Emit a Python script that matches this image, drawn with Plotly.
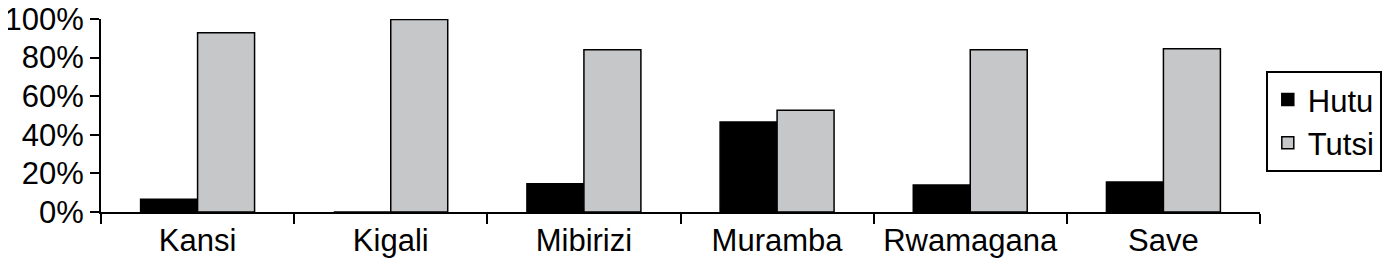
import plotly.graph_objects as go

categories = ["Kansi", "Kigali", "Mibirizi", "Muramba", "Rwamagana", "Save"]
hutu = [0.066, 0.0, 0.147, 0.466, 0.14, 0.155]
tutsi = [0.929, 0.998, 0.841, 0.527, 0.841, 0.846]
ytick_vals = [0, 0.2, 0.4, 0.6, 0.8, 1.0]
ytick_text = ["0%", "20%", "40%", "60%", "80%", "100%"]

fig = go.Figure()
fig.add_trace(go.Bar(x=categories, y=hutu, name="Hutu",
                     marker=dict(color="#000000", line=dict(color="#000000", width=1.5))))
fig.add_trace(go.Bar(x=categories, y=tutsi, name="Tutsi",
                     marker=dict(color="#c6c7c9", line=dict(color="#000000", width=1.5))))

fig.update_layout(
    width=1384, height=254,
    margin=dict(l=93, r=132, t=11, b=50, autoexpand=False),
    paper_bgcolor="white", plot_bgcolor="white",
    font=dict(family="Liberation Sans, Arial, Helvetica, sans-serif", size=31, color="black"),
    barmode="group", bargap=0.41, bargroupgap=0,
    showlegend=True,
    legend=dict(x=1.005, xanchor="left", y=0.731, yanchor="top",
                bordercolor="black", borderwidth=2, bgcolor="white",
                font=dict(size=31), tracegroupgap=0, itemwidth=30),
    xaxis=dict(showline=True, linecolor="black", linewidth=2, automargin=False,
               ticks="outside", tickson="boundaries", ticklen=10, tickwidth=2, tickcolor="black",
               showgrid=False, zeroline=False, ticklabeloverflow="allow"),
    yaxis=dict(range=[0, 1], showline=True, linecolor="black", linewidth=2, automargin=False,
               ticks="outside", ticklen=9, tickwidth=2, tickcolor="black",
               tickvals=ytick_vals, ticktext=ytick_text, ticklabeloverflow="allow",
               showgrid=False, zeroline=False),
)

fig.write_html("out.html")
